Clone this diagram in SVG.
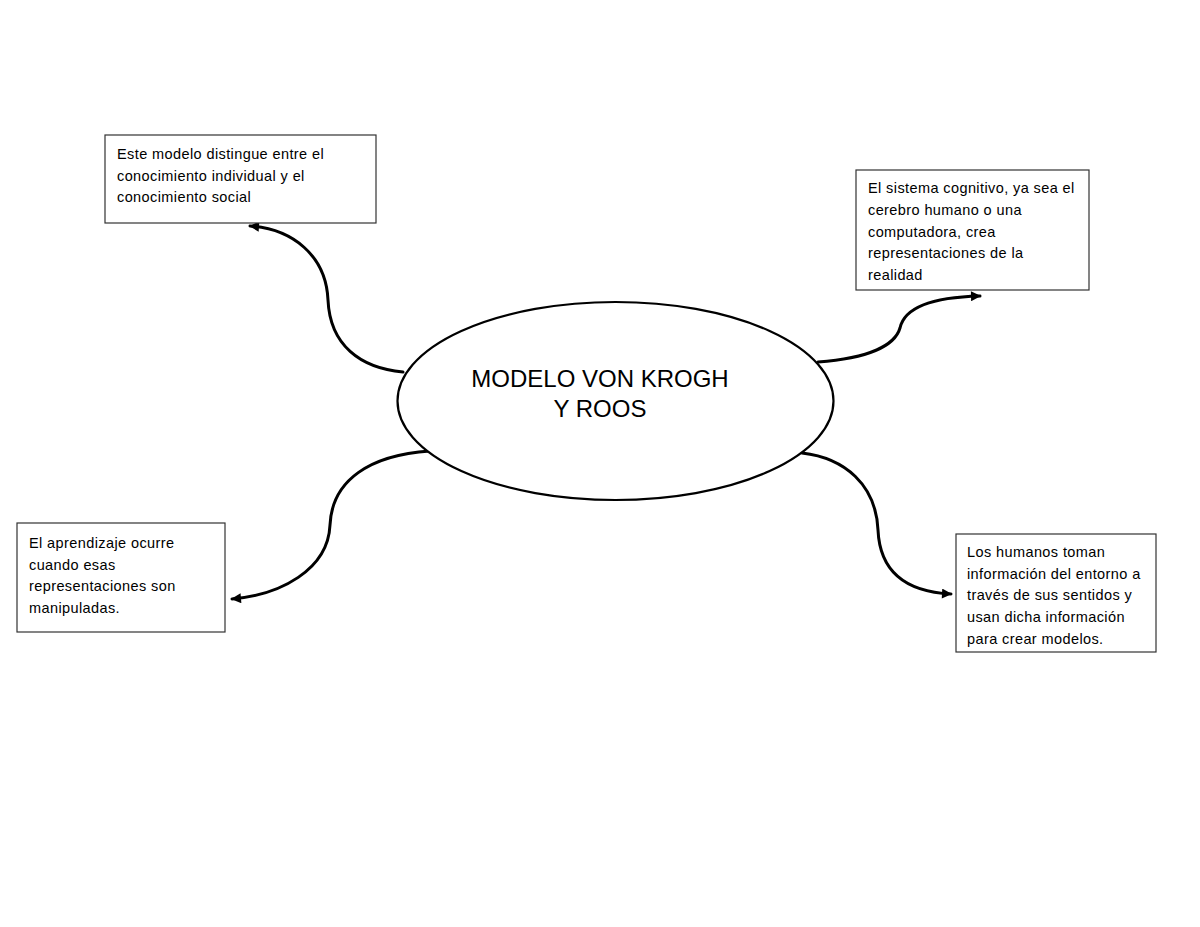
<svg xmlns="http://www.w3.org/2000/svg" width="1200" height="927" viewBox="0 0 1200 927">
<style>
.box{fill:#fff;stroke:#333;stroke-width:1.2}
.t{font-family:"Liberation Sans",Arial,sans-serif;font-size:14.5px;letter-spacing:0.4px;fill:#000}
.title{font-family:"Liberation Sans",Arial,sans-serif;font-size:24px;fill:#000;text-anchor:middle}
.conn{fill:none;stroke:#000;stroke-width:3;stroke-linecap:round}
</style>
<defs>
<marker id="arr" viewBox="0 0 10 10" refX="9" refY="5" markerWidth="11" markerHeight="10" markerUnits="userSpaceOnUse" orient="auto">
<path d="M0,0 L10,5 L0,10 Z" fill="#000"/>
</marker>
</defs>
<rect width="1200" height="927" fill="#fff"/>
<g id="connectors">
<path class="conn" marker-end="url(#arr)" d="M403,372 C360,368 330,345 328,300 C326,255 292,229 250,226"/>
<path class="conn" marker-end="url(#arr)" d="M818,362 C870,358 895,345 900,328 C905,305 940,297 980,296"/>
<path class="conn" marker-end="url(#arr)" d="M430,451 C370,455 332,480 330,525 C328,570 280,595 232,599"/>
<path class="conn" marker-end="url(#arr)" d="M802,453 C845,458 876,485 878,530 C880,575 910,592 951,594"/>
</g>
<g id="center">
<ellipse cx="615.5" cy="401" rx="218" ry="99" fill="#fff" stroke="#000" stroke-width="2.2"/>
<text class="title" x="600" y="387">MODELO VON KROGH</text>
<text class="title" x="600" y="417">Y ROOS</text>
</g>
<g id="box1">
<rect class="box" x="105" y="135" width="271" height="88"/>
<text class="t" x="117" y="159">Este modelo distingue entre el</text>
<text class="t" x="117" y="181">conocimiento individual y el</text>
<text class="t" x="117" y="202">conocimiento social</text>
</g>
<g id="box2">
<rect class="box" x="856" y="170" width="233" height="120"/>
<text class="t" x="868" y="193">El sistema cognitivo, ya sea el</text>
<text class="t" x="868" y="215">cerebro humano o una</text>
<text class="t" x="868" y="237">computadora, crea</text>
<text class="t" x="868" y="258">representaciones de la</text>
<text class="t" x="868" y="280">realidad</text>
</g>
<g id="box3">
<rect class="box" x="17" y="523" width="208" height="109"/>
<text class="t" x="29" y="548">El aprendizaje ocurre</text>
<text class="t" x="29" y="570">cuando esas</text>
<text class="t" x="29" y="591">representaciones son</text>
<text class="t" x="29" y="613">manipuladas.</text>
</g>
<g id="box4">
<rect class="box" x="956" y="534" width="200" height="118"/>
<text class="t" x="967" y="557">Los humanos toman</text>
<text class="t" x="967" y="579">información del entorno a</text>
<text class="t" x="967" y="600">través de sus sentidos y</text>
<text class="t" x="967" y="622">usan dicha información</text>
<text class="t" x="967" y="644">para crear modelos.</text>
</g>
</svg>
